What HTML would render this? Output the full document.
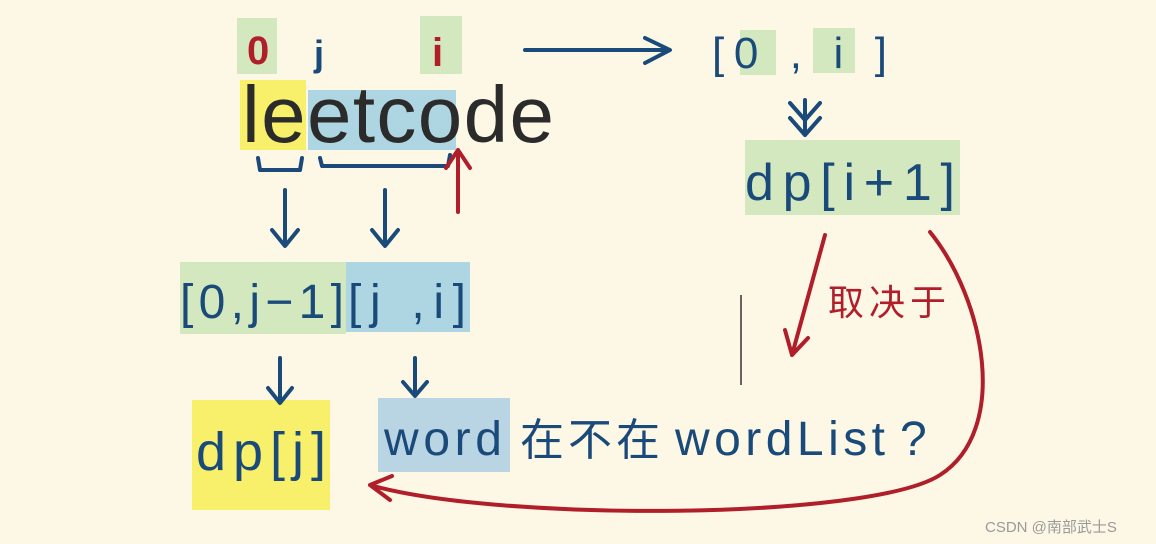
<!DOCTYPE html>
<html><head><meta charset="utf-8"><style>
html,body{margin:0;padding:0;background:#fdf7e5;}
svg{display:block}
text{font-family:"Liberation Sans","Noto Sans CJK SC",sans-serif;}
</style></head><body>
<svg width="1156" height="544" viewBox="0 0 1156 544" xmlns="http://www.w3.org/2000/svg">
<rect width="1156" height="544" fill="#fdf7e5"/>
<rect x="237" y="18" width="40" height="56" fill="#d3e8bf"/>
<rect x="420" y="16" width="42" height="58" fill="#d3e8bf"/>
<rect x="740" y="30" width="36" height="45" fill="#d3e8bf"/>
<rect x="813" y="28" width="42" height="45" fill="#d3e8bf"/>
<rect x="745" y="140" width="215" height="75" fill="#d3e8bf"/>
<rect x="240" y="80" width="66" height="70" fill="#f8f06a"/>
<rect x="308" y="90" width="148" height="60" fill="#aed6e2"/>
<rect x="180" y="262" width="166" height="72" fill="#d3e8bf"/>
<rect x="346" y="262" width="124" height="70" fill="#aed6e2"/>
<rect x="192" y="400" width="138" height="110" fill="#f8f06a"/>
<rect x="378" y="398" width="132" height="74" fill="#b9d4e2"/>
<text x="247" y="64" font-size="40" fill="#b01e2a" font-weight="bold">0</text>
<text x="314" y="66" font-size="36" fill="#1a4a7a" font-weight="bold">j</text>
<text x="432" y="66" font-size="40" fill="#b01e2a" font-weight="bold">i</text>
<text x="242" y="142" font-size="80" fill="#2b2b2b" textLength="312">leetcode</text>
<text x="712" y="68" font-size="44" fill="#1a4a7a" textLength="175">[0 , i ]</text>
<text x="745" y="200" font-size="52" fill="#1a4a7a" textLength="210">dp[i+1]</text>
<text x="180" y="318" font-size="48" fill="#1a4a7a" textLength="164">[0,j−1]</text>
<text x="348" y="318" font-size="48" fill="#1a4a7a" textLength="118">[j ,i]</text>
<text x="196" y="470" font-size="54" fill="#1a4a7a" textLength="130">dp[j]</text>
<text x="384" y="455" font-size="48" fill="#1a4a7a" textLength="118">word</text>
<text x="520" y="455" font-size="44" fill="#1a4a7a" textLength="140">在不在</text>
<text x="675" y="455" font-size="48" fill="#1a4a7a" textLength="210">wordList</text>
<text x="900" y="455" font-size="48" fill="#1a4a7a">?</text>
<text x="828" y="315" font-size="36" fill="#b01e2a" textLength="118">取决于</text>
<text x="985" y="532" font-size="15" fill="#9a9a9a">CSDN @南部武士S</text>
<g stroke="#1a4a7a" stroke-width="4" fill="none" stroke-linecap="round" stroke-linejoin="round">
<path d="M525 50 L668 50 M645 38 L670 50 L645 63"/>
<path d="M805 100 L805 135 M790 118 L805 135 L820 118 M790 103 L805 120 L820 103"/>
<path d="M258 158 L260 170 L300 170 L302 158"/>
<path d="M320 158 L322 166 L448 166 L450 155"/>
<path d="M285 190 L285 245 M272 230 L285 246 L298 230"/>
<path d="M385 190 L385 245 M372 230 L385 246 L398 230"/>
<path d="M280 358 L280 402 M268 388 L280 403 L292 388"/>
<path d="M415 358 L415 395 M403 382 L415 396 L427 382"/>
</g>
<g stroke="#b01e2a" stroke-width="4" fill="none" stroke-linecap="round" stroke-linejoin="round">
<path d="M458 212 L458 150 M446 168 L458 150 L470 168"/>
<path d="M825 235 L792 355 M785 330 L792 355 L808 338"/>
<path d="M930 232 C985 300 1010 430 940 475 C870 520 500 522 370 485 M392 476 L370 485 L390 500"/>
</g>
<line x1="741" y1="295" x2="741" y2="385" stroke="#333" stroke-width="1.5"/>
</svg>
</body></html>
